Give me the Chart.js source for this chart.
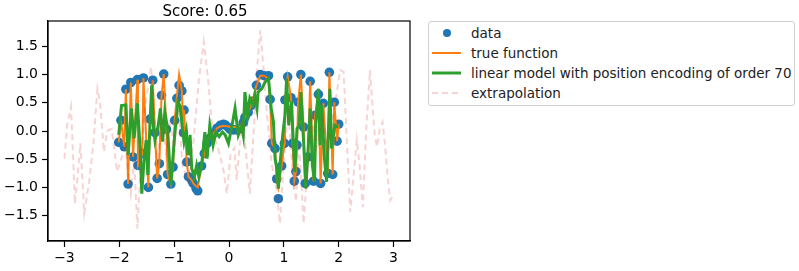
<!DOCTYPE html>
<html>
<head>
<meta charset="utf-8">
<script src="https://cdn.jsdelivr.net/npm/chart.js@4"></script>
<style>
  html, body { margin: 0; padding: 0; background: #fff; }
  #wrap { position: relative; width: 799px; height: 271px; }
  #legend {
    position: absolute; left: 428px; top: 21px; width: 365px; height: 83px;
    border: 1px solid #d0d0d0; border-radius: 3px; background: #fff;
    font-family: "DejaVu Sans", sans-serif; font-size: 13.5px; color: #222;
  }
  #legend .row { position: absolute; left: 0; height: 20px; line-height: 20px; white-space: nowrap; }
  #legend .txt { position: absolute; left: 42px; top: 0; }
  #legend svg { position: absolute; left: 3px; top: 0; }
</style>
</head>
<body>
<div id="wrap">
  <canvas id="chart" width="799" height="271"></canvas>
  <div id="legend">
    <div class="row" style="top:1px"><svg width="30" height="20"><circle cx="15" cy="10" r="4" fill="#1f77b4"/></svg><span class="txt">data</span></div>
    <div class="row" style="top:21px"><svg width="30" height="20"><line x1="0" y1="10" x2="29" y2="10" stroke="#ff7f0e" stroke-width="2"/></svg><span class="txt">true function</span></div>
    <div class="row" style="top:41px"><svg width="30" height="20"><line x1="0" y1="10" x2="29" y2="10" stroke="#2ca02c" stroke-width="3"/></svg><span class="txt">linear model with position encoding of order 70</span></div>
    <div class="row" style="top:61px"><svg width="30" height="20"><line x1="0" y1="10" x2="29" y2="10" stroke="rgba(214,39,40,0.2)" stroke-width="2" stroke-dasharray="6,4"/></svg><span class="txt">extrapolation</span></div>
  </div>
</div>
<script>
// 観測データ（青い点）
const dataX = [-2.01, -1.97, -1.91, -1.88, -1.84, -1.79, -1.75, -1.67, -1.66, -1.58, -1.56, -1.47, -1.44, -1.39, -1.35, -1.31, -1.27, -1.23, -1.19, -1.14, -1.12, -1.06, -1.02, -0.99, -0.95, -0.91, -0.86, -0.83, -0.82, -0.77, -0.74, -0.68, -0.65, -0.60, -0.57, -0.50, -0.45, -0.40, -0.35, -0.29, -0.22, -0.16, -0.10, -0.06, -0.01, 0.02, 0.08, 0.14, 0.20, 0.26, 0.29, 0.35, 0.40, 0.44, 0.50, 0.57, 0.64, 0.72, 0.75, 0.78, 0.84, 0.87, 0.90, 0.96, 1.01, 1.02, 1.07, 1.13, 1.16, 1.19, 1.22, 1.24, 1.26, 1.31, 1.36, 1.39, 1.44, 1.48, 1.54, 1.57, 1.63, 1.67, 1.72, 1.80, 1.83, 1.89, 1.92, 1.97, 2.00];
const dataY = [-0.20, 0.19, -0.28, 0.74, -0.94, 0.86, -0.46, 0.91, -0.61, -0.40, 0.94, -1.00, 0.21, 0.90, -0.03, -0.84, -0.58, 0.63, 1.01, 0.03, -0.77, -0.94, -0.64, 0.19, 0.58, 0.81, 0.71, -0.03, 0.37, -0.55, -0.81, -0.87, -0.93, -1.02, -1.06, -0.62, -0.40, -0.22, -0.13, -0.05, 0.05, 0.10, 0.12, 0.10, 0.06, 0.03, 0.02, 0.02, 0.04, 0.15, 0.24, 0.33, 0.45, 0.53, 0.81, 1.00, 0.98, 0.98, 0.56, -0.22, -0.31, -0.85, -1.20, -0.62, -0.22, 0.55, 0.96, 0.59, -0.22, -0.89, -0.72, -0.25, 0.51, 1.00, 0.07, -0.93, -0.46, 0.88, -0.89, 0.28, 0.65, -0.93, 0.49, -0.75, 1.04, -0.77, 0.51, -0.18, 0.12];

// 真の関数（オレンジ）
const trueY = [-0.20, 0.19, -0.28, 0.74, -0.94, 0.86, -0.46, 0.91, -0.61, -0.40, 0.94, -1.00, 0.21, 0.90, -0.03, -0.84, -0.58, 0.63, 1.01, 0.03, -0.77, -0.94, -0.64, 0.19, 0.62, 1.00, 0.71, -0.03, 0.37, -0.55, -0.81, -0.87, -0.93, -0.98, -1.00, -0.62, -0.40, -0.22, -0.13, -0.05, 0.05, 0.08, 0.09, 0.09, 0.08, 0.07, 0.07, 0.07, 0.08, 0.15, 0.24, 0.33, 0.45, 0.58, 0.81, 0.98, 0.98, 0.93, 0.56, -0.22, -0.31, -0.85, -1.00, -0.62, -0.22, 0.55, 0.96, 0.59, -0.22, -0.89, -0.72, -0.25, 0.51, 1.00, 0.07, -0.93, -0.46, 0.88, -0.89, 0.28, 0.65, -0.93, 0.49, -0.75, 1.04, -0.77, 0.51, -0.18, 0.12];

// 線形モデルの予測（緑）
const modelX = [-2.01, -1.96, -1.88, -1.84, -1.78, -1.73, -1.67, -1.62, -1.59, -1.55, -1.51, -1.48, -1.41, -1.38, -1.35, -1.29, -1.25, -1.21, -1.17, -1.12, -1.06, -0.99, -0.93, -0.89, -0.85, -0.82, -0.78, -0.75, -0.71, -0.68, -0.63, -0.59, -0.55, -0.50, -0.44, -0.40, -0.35, -0.29, -0.24, -0.18, -0.12, -0.07, -0.01, 0.05, 0.11, 0.17, 0.23, 0.26, 0.29, 0.34, 0.38, 0.44, 0.47, 0.51, 0.53, 0.60, 0.66, 0.72, 0.77, 0.81, 0.84, 0.87, 0.90, 0.94, 0.98, 1.02, 1.05, 1.09, 1.14, 1.17, 1.20, 1.24, 1.28, 1.31, 1.36, 1.40, 1.44, 1.48, 1.52, 1.56, 1.58, 1.63, 1.66, 1.69, 1.74, 1.78, 1.81, 1.84, 1.87, 1.93, 1.99];
const modelY = [-0.07, 0.45, 0.46, -0.43, 0.40, -0.13, 0.49, -0.31, -1.11, -0.52, -0.16, -0.78, 0.81, 0.10, -0.16, 0.10, 0.40, -0.19, 0.34, 0.04, -0.96, -0.07, 0.52, 0.44, 0.04, -0.19, 0.00, -0.43, -0.07, -0.66, -0.81, -0.61, -0.81, -0.61, -0.02, -0.49, 0.10, -0.25, -0.02, -0.10, -0.02, -0.07, -0.22, 0.07, 0.40, -0.07, 0.10, -0.07, 0.69, 0.28, 0.58, 0.46, 0.63, 0.40, 0.69, 0.75, 0.87, 0.93, 0.40, 0.16, -0.49, -0.66, -1.02, -0.49, -0.07, 0.28, 0.93, 0.10, 0.52, -0.13, -0.73, 0.04, 0.10, 0.69, -0.19, -1.02, -0.37, 0.40, -0.61, -0.90, 0.10, 0.75, -0.25, 0.46, -0.49, -0.90, -0.07, 0.75, -0.31, 0.10, 0.07];

// 外挿（薄い赤の破線）
const extraX = [-3.00, -2.95, -2.88, -2.84, -2.81, -2.76, -2.71, -2.67, -2.64, -2.55, -2.47, -2.40, -2.35, -2.28, -2.22, -2.14, -2.04, -1.95, -1.89, -1.84, -1.79, -1.73, -1.67, -1.60, -1.52, -1.42, -1.36, -1.30, -1.22, -1.15, -1.08, -1.00, -0.92, -0.85, -0.75, -0.65, -0.55, -0.46, -0.38, -0.30, -0.20, -0.10, -0.04, 0.03, 0.10, 0.14, 0.20, 0.26, 0.32, 0.38, 0.45, 0.52, 0.57, 0.63, 0.70, 0.78, 0.86, 0.93, 1.00, 1.08, 1.15, 1.22, 1.28, 1.36, 1.42, 1.50, 1.60, 1.70, 1.80, 1.90, 2.03, 2.09, 2.15, 2.21, 2.27, 2.33, 2.38, 2.44, 2.50, 2.57, 2.62, 2.66, 2.70, 2.75, 2.80, 2.85, 2.90, 2.94, 2.99];
const extraY = [-0.49, 0.10, 0.43, -0.50, -1.29, -0.80, -0.22, -0.90, -1.46, -0.90, -0.20, 0.75, 0.50, -0.37, 0.00, 0.04, -0.72, -0.45, -0.20, -0.70, -1.11, -0.50, -1.73, -0.40, 0.50, 1.14, 0.30, -0.50, 0.30, -0.40, 0.20, -0.30, 0.40, -0.60, -0.90, -0.20, 0.90, 1.58, 0.90, 0.00, -0.30, -0.70, -1.11, -0.40, -0.30, -0.87, -0.20, 0.20, -0.50, -1.11, 0.00, 1.20, 1.79, 1.10, 0.20, -0.60, -1.00, -1.64, -0.50, 0.40, -0.60, -1.25, -0.20, -1.64, -0.80, 0.30, -0.30, 0.20, -0.40, 0.30, 1.08, 1.05, -0.20, -1.43, -0.80, -0.16, -0.60, -1.35, 0.00, 1.08, 0.40, -0.10, -0.28, 0.05, 0.16, -0.30, -0.90, -1.23, -1.14];

const xTicks = [-3, -2, -1, 0, 1, 2, 3];
const yTicks = [-1.5, -1.0, -0.5, 0.0, 0.5, 1.0, 1.5];

const toPoints = (xs, ys) => xs.map((x, i) => ({ x: x, y: ys[i] }));
const minus = s => String(s).replace('-', '\u2212');

// 枠線（上と右も）を描く
const frame = {
  id: 'frame',
  afterDatasetsDraw(chart) {
    const a = chart.chartArea, c = chart.ctx;
    c.save();
    c.strokeStyle = '#000';
    c.lineWidth = 1.2;
    c.strokeRect(a.left, a.top, a.right - a.left, a.bottom - a.top);
    c.restore();
  }
};

const font = { family: '"DejaVu Sans", sans-serif', size: 14 };

new Chart(document.getElementById('chart'), {
  type: 'scatter',
  data: {
    datasets: [
      { label: 'data', data: toPoints(dataX, dataY), backgroundColor: '#1f77b4', borderWidth: 0, pointRadius: 4.8, showLine: false, order: 4 },
      { label: 'true function', data: toPoints(dataX, trueY), borderColor: '#ff7f0e', borderWidth: 2, pointRadius: 0, showLine: true, order: 3 },
      { label: 'linear model with position encoding of order 70', data: toPoints(modelX, modelY), borderColor: '#2ca02c', borderWidth: 3, pointRadius: 0, showLine: true, order: 2 },
      { label: 'extrapolation', data: toPoints(extraX, extraY), borderColor: 'rgba(214,39,40,0.2)', borderWidth: 2, borderDash: [6, 4], pointRadius: 0, showLine: true, order: 1 }
    ]
  },
  options: {
    responsive: false,
    animation: false,
    layout: { padding: { left: 0, right: 389, top: 0, bottom: 0 } },
    plugins: {
      legend: { display: false },
      tooltip: { enabled: false },
      title: {
        display: true, text: 'Score: 0.65', color: '#000',
        font: { family: '"DejaVu Sans", sans-serif', size: 15, weight: 'normal', lineHeight: 1.0 },
        padding: { top: 5, bottom: 1 }
      }
    },
    scales: {
      x: {
        type: 'linear', min: -3.3, max: 3.3,
        afterBuildTicks: s => { s.ticks = xTicks.map(v => ({ value: v })); },
        afterFit: s => { s.height = 30; },
        grid: { drawOnChartArea: false, drawTicks: true, tickLength: 6, tickColor: '#000', tickWidth: 1.2 },
        border: { color: '#000', width: 1.2 },
        ticks: { color: '#000', font: font, padding: 3, maxRotation: 0, callback: v => minus(v) }
      },
      y: {
        type: 'linear', min: -1.95, max: 1.95,
        afterBuildTicks: s => { s.ticks = yTicks.map(v => ({ value: v })); },
        afterFit: s => { s.width = 48; },
        grid: { drawOnChartArea: false, drawTicks: true, tickLength: 6, tickColor: '#000', tickWidth: 1.2 },
        border: { color: '#000', width: 1.2 },
        ticks: { color: '#000', font: font, padding: 4, callback: v => minus(v.toFixed(1)) }
      }
    }
  },
  plugins: [frame]
});
</script>
</body>
</html>
